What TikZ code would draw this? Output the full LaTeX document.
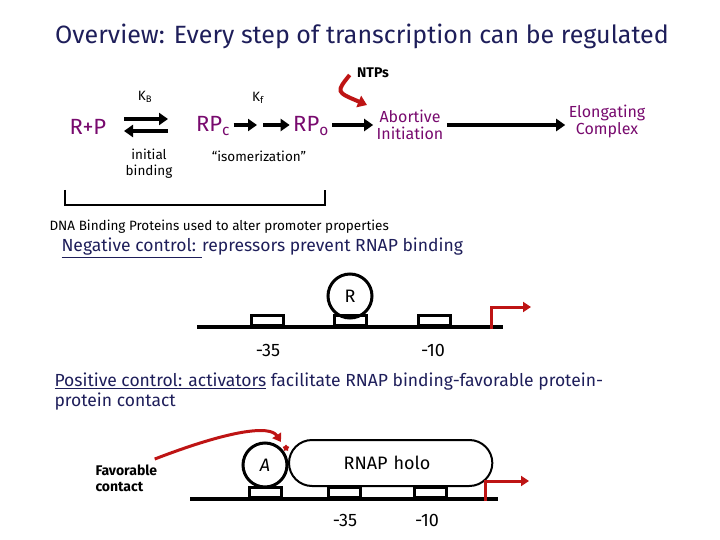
\documentclass[tikz,border=0pt]{standalone}
\usepackage{fontspec}
\setmainfont{Fira Sans}
\usetikzlibrary{arrows.meta,shapes.geometric,shapes.misc}
\definecolor{navy}{RGB}{30,30,90}
\definecolor{purp}{RGB}{120,10,110}
\definecolor{dred}{RGB}{190,20,20}
\begin{document}
\begin{tikzpicture}[x=1pt,y=-1pt,
  purpt/.style={text=purp,font=\fontsize{22}{24}\selectfont},
  purps/.style={text=purp,font=\fontsize{16}{17}\selectfont,align=center},
  small/.style={font=\fontsize{13.5}{16}\selectfont,align=center},
  arr/.style={line width=4pt,-{Triangle[length=9pt,width=12pt]}},
  redarr/.style={dred,line width=4pt,-{Triangle[length=9pt,width=12pt]}},
  dna/.style={line width=4pt},
  site/.style={draw,line width=3pt,minimum width=32pt,minimum height=10pt,inner sep=0pt},
  lbl/.style={font=\fontsize{18}{20}\selectfont},
  ctl/.style={text=navy,font=\fontsize{17.5}{20}\selectfont,anchor=west}]
\useasboundingbox (0,0) rectangle (720,540);
\node[text=navy,font=\fontsize{25}{28}\selectfont] (title) at (362,36) {Overview: Every step of transcription can be regulated};
\node[font=\bfseries\fontsize{14}{15}\selectfont] (ntp) at (373,73) {NTPs};
\node[small] (kb) at (145,97) {K\textsubscript{B}};
\node[small] (kf) at (258,98) {K\textsubscript{f}};
\node[purpt] (rp) at (88,127) {R+P};
\node[purpt] (rpc) at (213,126) {RP\textsubscript{c}};
\node[purpt] (rpo) at (311,126) {RP\textsubscript{o}};
\node[purps] (abort) at (410,125) {Abortive\\Initiation};
\node[purps] (elong) at (607,121) {Elongating\\Complex};
\coordinate (e1) at (124,119); \coordinate (e2) at (168,119);
\coordinate (e3) at (168,131); \coordinate (e4) at (124,131);
\draw[arr] (e1) -- (e2);
\draw[arr] (e3) -- (e4);
\coordinate (m) at (260,125);
\draw[arr] (rpc.east|-m) -- (257,125);
\draw[arr] (263,125) -- (rpo.west|-m);
\draw[arr] (rpo.east|-m) -- (abort.west|-m);
\draw[arr] (abort.east|-m) -- (elong.west|-m);
\draw[redarr] (ntp.west) ++(-4,2) .. controls (336,92) .. (367,105);
\node[small] (ib) at (149,164) {initial\\binding};
\node[small] (iso) at (259,156) {“isomerization”};
\coordinate (b1) at (65,190); \coordinate (b2) at (65,205);
\coordinate (b3) at (325,205); \coordinate (b4) at (325,190);
\draw[line width=2pt] (b1) -- (b2) -- (b3) -- (b4);
\node[font=\fontsize{13.5}{14}\selectfont,anchor=west] (dbp) at (46,227) {DNA Binding Proteins used to alter promoter properties};
\node[ctl] (neg) at (58,248) {\underline{Negative control: }repressors prevent RNAP binding};
% negative DNA
\coordinate (d1) at (197,327); \coordinate (d2) at (503,327);
\draw[dna] (d1) -- (d2);
\node[site,anchor=south] (s35) at (267,327) {};
\node[site,anchor=south] (sr) at (350,327) {};
\node[site,anchor=south] (s10) at (434,327) {};
\node[draw,circle,line width=3pt,minimum size=44pt,inner sep=0pt,lbl] (R) at (350,296) {R};
\node[lbl] (l35) at (268,350) {-35};
\node[lbl] (l10) at (433,350) {-10};
\coordinate (p1) at (491,329); \coordinate (p2) at (491,307); \coordinate (p3) at (531,307);
\draw[redarr,line width=3pt,-{Triangle[length=8pt,width=10pt]}] (p1) -- (p2) -- (p3);
\node[ctl,align=left] (pos) at (51,392) {\underline{Positive control: activators} facilitate RNAP binding-favorable protein-\\protein contact};
% positive DNA
\coordinate (f1) at (190,499); \coordinate (f2) at (498,499);
\draw[dna] (f1) -- (f2);
\node[site,anchor=south] (sa) at (265,499) {};
\node[site,anchor=south] (t35) at (344,499) {};
\node[site,anchor=south] (t10) at (430,499) {};
\node[draw,circle,line width=3pt,minimum size=44pt,inner sep=0pt,lbl,font=\itshape\fontsize{18}{20}\selectfont] (A) at (265,465) {A};
\node[draw,rounded rectangle,line width=2pt,minimum width=210pt,minimum height=46pt,anchor=west,lbl,text width=150pt,align=left] (holo) at (288,463) {\hspace*{28pt}RNAP holo};
\node[lbl] (m35) at (345,520) {-35};
\node[lbl] (m10) at (427,520) {-10};
\coordinate (q1) at (485,501); \coordinate (q2) at (485,481); \coordinate (q3) at (529,481);
\draw[redarr,line width=3pt,-{Triangle[length=8pt,width=10pt]}] (q1) -- (q2) -- (q3);
\node[font=\bfseries\fontsize{14}{16}\selectfont,align=left,anchor=west] (fav) at (92,478) {Favorable\\contact};
\draw[redarr,line width=3pt,-{Triangle[length=8pt,width=10pt]}] (fav.north east) ++(-6,-2) .. controls (230,430) and (270,425) .. (281,442);
\node[star,star points=5,fill=dred,inner sep=0pt,minimum size=7pt] (st) at (286,448) {};
\end{tikzpicture}
\end{document}
